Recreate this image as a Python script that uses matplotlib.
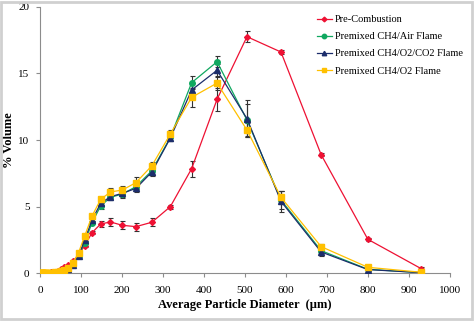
import numpy as np
import matplotlib
matplotlib.use("Agg")
import matplotlib.pyplot as plt
from matplotlib.patches import Rectangle

plt.rcParams['font.family'] = ['Liberation Serif', 'DejaVu Serif']

# particle size bins (um)
diameter = [930, 800, 686, 588, 505, 432, 370, 318, 273, 234, 201, 172, 148,
            127, 109, 94, 81, 69.5, 59.5, 51, 44, 37.6, 32.3, 27.7, 23.8,
            20.4, 17.5, 15, 12.9, 11, 9.5, 8.1, 7, 6, 5.1, 4.4, 3.8, 3.2,
            2.8, 2.4]

pre = [0.35, 2.55, 8.9, 16.6, 17.75, 13.05, 7.85, 5.0, 3.83, 3.5, 3.6, 3.85,
       3.7, 3.05, 2.07, 1.4, 0.9, 0.65, 0.45, 0.3, 0.2, 0.13, 0.09, 0.06,
       0.04, 0.03, 0.02, 0.02, 0.01, 0.01, 0.01, 0.0, 0.0, 0.0, 0.0, 0.0,
       0.0, 0.0, 0.0, 0.0]
pre_err = [0.1, 0.1, 0.1, 0.15, 0.4, 0.85, 0.6, 0.15, 0.3, 0.3, 0.3, 0.3,
           0.25, 0.1, 0.1] + [0] * 25

air = [0.05, 0.3, 1.7, 5.5, 11.5, 15.87, 14.3, 10.2, 7.7, 6.5, 5.95, 5.7,
       5.05, 3.8, 2.3, 1.3, 0.6, 0.3, 0.2, 0.12, 0.08, 0.05, 0.04, 0.03,
       0.02, 0.02, 0.01, 0.01, 0.01, 0.0, 0.0, 0.0, 0.0, 0.0, 0.0, 0.0,
       0.0, 0.0, 0.0, 0.0]
air_err = [0.05, 0.1, 0.3, 0.7, 1.2, 0.4, 0.5, 0.25, 0.3, 0.3, 0.3, 0.2,
           0.2, 0.1, 0.1] + [0] * 25

oxy_co2 = [0.05, 0.28, 1.6, 5.4, 11.6, 15.23, 13.75, 10.15, 7.6, 6.37, 6.0,
           5.75, 5.25, 4.0, 2.5, 1.3, 0.65, 0.35, 0.2, 0.12, 0.08, 0.05,
           0.04, 0.03, 0.02, 0.02, 0.01, 0.01, 0.01, 0.0, 0.0, 0.0, 0.0,
           0.0, 0.0, 0.0, 0.0, 0.0, 0.0, 0.0]
oxy_co2_err = [0.05, 0.1, 0.3, 0.8, 1.4, 0.5, 0.5, 0.25, 0.3, 0.3, 0.3, 0.2,
               0.2, 0.1, 0.1] + [0] * 25

oxy = [0.08, 0.45, 2.0, 5.7, 10.75, 14.27, 13.2, 10.45, 8.07, 6.8, 6.25,
       6.1, 5.55, 4.3, 2.8, 1.55, 0.8, 0.42, 0.25, 0.15, 0.1, 0.07, 0.05,
       0.04, 0.03, 0.02, 0.02, 0.01, 0.01, 0.01, 0.0, 0.0, 0.0, 0.0, 0.0,
       0.0, 0.0, 0.0, 0.0, 0.0]
oxy_err = [0.05, 0.1, 0.2, 0.5, 0.5, 0.55, 0.7, 0.3, 0.3, 0.45, 0.3, 0.3,
           0.2, 0.1, 0.1] + [0] * 25

series = [
    ('Pre-Combustion', pre, pre_err, '#ee1133', 'D', 3.0),
    ('Premixed CH4/Air Flame', air, air_err, '#10a860', 'o', 4.0),
    ('Premixed CH4/O2/CO2 Flame', oxy_co2, oxy_co2_err, '#1c2d6b', '^', 4.0),
    ('Premixed CH4/O2 Flame', oxy, oxy_err, '#ffc000', 's', 4.0),
]

fig = plt.figure(figsize=(4.74, 3.21), dpi=100)
ax = fig.add_axes([0.0844, 0.1486, 0.8646, 0.8305])

handles = []
for label, vals, errs, color, marker, ms in series:
    ax.errorbar(diameter, vals, yerr=errs, fmt='none', ecolor='#333333',
                elinewidth=0.8, capsize=1.8, capthick=0.8, zorder=2)
    line, = ax.plot(diameter, vals, color=color, marker=marker, markersize=ms,
                    linewidth=0.9, label=label, zorder=3)
    handles.append(line)

ax.set_xlim(0, 1000)
ax.set_ylim(0, 20)
ax.set_xticks(np.arange(0, 1001, 100))
ax.set_yticks([0, 5, 10, 15, 20])
ax.tick_params(labelsize=8, length=3, width=0.8, color='#8c8c8c',
               direction='out')
ax.tick_params(axis='x', pad=6)
ax.tick_params(axis='y', pad=4.5)
for side in ['top', 'right']:
    ax.spines[side].set_visible(False)
for side in ['left', 'bottom']:
    ax.spines[side].set_color('#8c8c8c')
    ax.spines[side].set_linewidth(0.8)

ax.set_xlabel('Average Particle Diameter  (\u00b5m)', fontsize=9,
              fontweight='bold')
ax.set_ylabel('% Volume', fontsize=9, fontweight='bold')
ax.xaxis.set_label_coords(0.5, -0.096)
ax.yaxis.set_label_coords(-0.061, 0.5)

ax.legend(handles=handles, loc='upper left', frameon=False, fontsize=7.5,
          bbox_to_anchor=(317 / 474, 1 - 15 / 321),
          bbox_transform=fig.transFigure, borderpad=0, borderaxespad=0,
          handlelength=1.4, handletextpad=0.3, labelspacing=0.75,
          markerscale=0.8)

# light grey frame around the whole figure
fig.patches.append(Rectangle((0.003, 0.005), 0.992, 0.99,
                             transform=fig.transFigure, fill=False,
                             edgecolor='#d0d0d0', linewidth=2))

fig.savefig('out.png', dpi=100)
